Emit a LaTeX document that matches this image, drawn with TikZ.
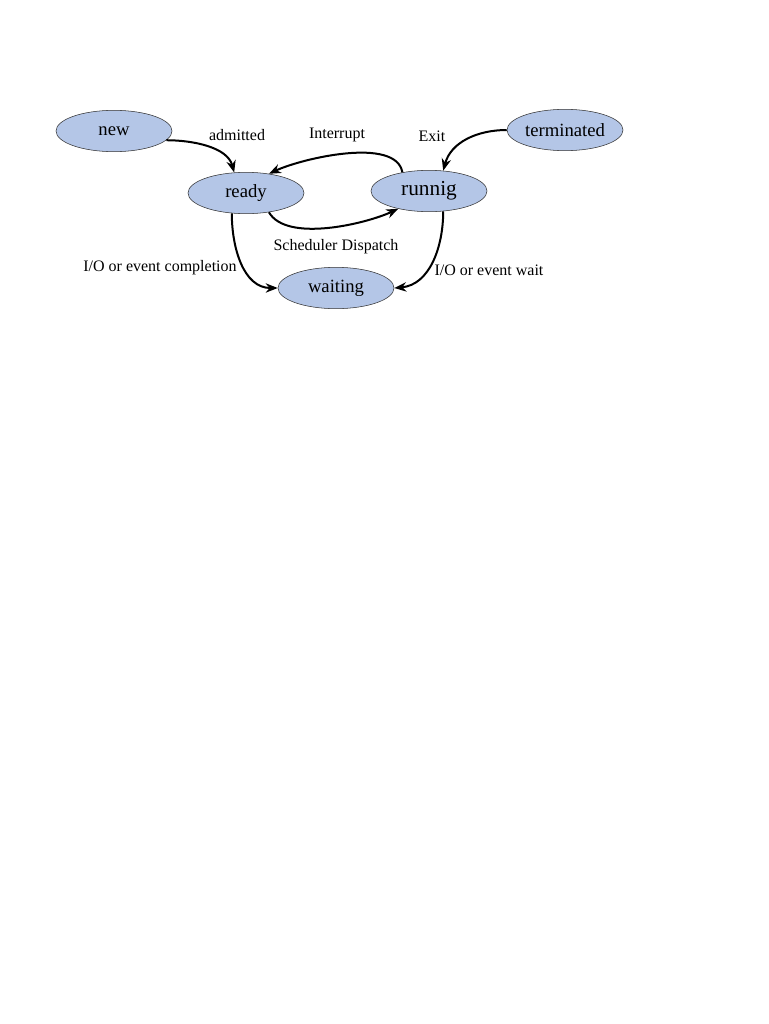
\documentclass[tikz,border=0pt]{standalone}
\usepackage{fontspec}
\setmainfont{Liberation Serif}
\usetikzlibrary{shapes.geometric,arrows.meta}
\definecolor{statefill}{RGB}{180,198,231}
\begin{document}
\begin{tikzpicture}[x=0.75pt,y=-0.75pt,
    state/.style={ellipse,draw=black!80,fill=statefill,
          minimum width=87pt,minimum height=31pt,
          inner sep=0pt,font=\fontsize{14}{16}\selectfont},
    trans/.style={-{Stealth[length=9pt,width=7pt]},line width=1.5pt},
    lbl/.style={font=\fontsize{12}{14}\selectfont}]
    \fill[white] (0,0) rectangle (768,1024);
    \useasboundingbox (0,0) rectangle (768,1024);
    % states
    \node[state] (new) at (114,131) {new};
    \node[state] (ready) at (246,193) {ready};
    \node[state,font=\fontsize{16}{18}\selectfont]
          (runnig) at (429,191) {runnig};
    \node[state] (terminated) at (565,130) {terminated};
    \node[state] (waiting) at (336,288) {waiting};
    % transitions
    \draw[trans] (new.-10) to[out=0,in=105,looseness=0.9] (ready.120);
    \draw[trans] (runnig.145) to[out=100,in=25,looseness=0.7] (ready.40);
    \draw[trans] (ready.-40) to[out=-60,in=-155,looseness=0.7] (runnig.-150);
    \draw[trans] (ready.-125) to[out=-90,in=180] (waiting.west);
    \draw[trans] (runnig.-55) to[out=-90,in=5] (waiting.east);
    \draw[trans] (terminated.west) to[out=180,in=75] (runnig.55);
    % labels
    \node[lbl] (admitted) at (237,135) {admitted};
    \node[lbl] (interrupt) at (337,135) {Interrupt};
    \node[lbl] (exit) at (432,136) {Exit};
    \node[lbl] (dispatch) at (336,247) {Scheduler Dispatch};
    \node[lbl] (completion) at (160,268) {I/O or event completion};
    \node[lbl] (wait) at (489,270) {I/O or event wait};
\end{tikzpicture}
\end{document}
